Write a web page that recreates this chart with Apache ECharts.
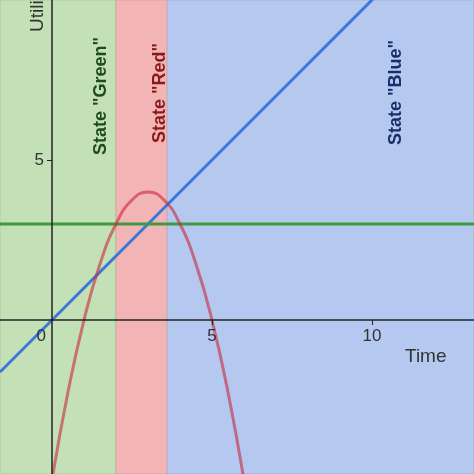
<!DOCTYPE html><html><head><meta charset="utf-8"><script src="https://cdn.jsdelivr.net/npm/echarts@6/dist/echarts.min.js"></script></head><body style="margin:0"><div id="c" style="width:474px;height:474px"></div><script>
const regions=[["Green",-1.625,2],["Red",2,3.6],["Blue",3.6,13.19]];
const regionColors=["rgb(196,224,182)","rgb(242,180,180)","rgb(180,200,240)"];
const lineX=[-1.625,13.19];const lineY=[-1.625,13.19];
const flatY=[3,3];
const curveX=[0,0.5,1,1.5,2,2.5,3,3.5,4,4.5,5,5.5,6];
const curveY=[-5,-2.25,0,1.75,3,3.75,4,3.75,3,1.75,0,-2.25,-5];
const xTicks=[5,10];const yTicks=[5];
const ch=echarts.init(document.getElementById('c'));
const f='Liberation Sans, Arial, sans-serif';
ch.setOption({animation:false,
grid:{left:0,right:0,top:0,bottom:0,containLabel:false,outerBoundsMode:'none'},
xAxis:{type:'value',min:-1.625,max:13.19,z:10,splitLine:{show:false},axisLine:{onZero:true,lineStyle:{color:'#222',width:1.5}},
 axisTick:{customValues:xTicks,length:5,lineStyle:{color:'#222'}},axisLabel:{show:false}},
yAxis:{type:'value',min:-4.81,max:10,z:10,splitLine:{show:false},axisLine:{onZero:true,lineStyle:{color:'#222',width:1.5}},
 axisTick:{customValues:yTicks,length:5,lineStyle:{color:'#222'}},axisLabel:{show:false}},
series:[
{type:'line',data:[],z:0,markArea:{silent:true,z:0,data:regions.map((r,i)=>[{xAxis:r[1],itemStyle:{color:regionColors[i],borderColor:'rgba(0,0,0,0.1)',borderWidth:1}},{xAxis:r[2]}])}},
{type:'line',z:5,data:lineX.map((x,i)=>[x,lineY[i]]),symbol:'none',lineStyle:{color:'#3c78d8',width:3}},
{type:'line',z:5,data:lineX.map((x,i)=>[x,flatY[i]]),symbol:'none',lineStyle:{color:'#3d9a3d',width:3}},
{type:'line',z:5,data:curveX.map((x,i)=>[x,curveY[i]]),smooth:true,symbol:'none',lineStyle:{color:'rgba(200,40,60,0.6)',width:3}}
]});
const P=(x,y)=>ch.convertToPixel({gridIndex:0},[x,y]);
const tl=[];
xTicks.forEach(v=>{const p=P(v,0);tl.push({type:'text',z:100,x:p[0],y:p[1]+8,style:{text:String(v),fontSize:17,fontFamily:f,fill:'#333',align:'center'}});});
yTicks.forEach(v=>{const p=P(0,v);tl.push({type:'text',z:100,x:p[0]-8,y:p[1],style:{text:String(v),fontSize:17,fontFamily:f,fill:'#333',align:'right',verticalAlign:'middle'}});});
const o=P(0,0);
tl.push({type:'text',z:100,x:o[0]-6,y:o[1]+8,style:{text:'0',fontSize:17,fontFamily:f,fill:'#333',align:'right'}});
tl.push({type:'text',z:100,x:405,y:347,style:{text:'Time',fontSize:19,fontFamily:f,fill:'#333'}});
tl.push({type:'text',z:100,x:28,y:32,rotation:Math.PI/2,style:{text:'Utility',fontSize:19,fontFamily:f,fill:'#333'}});
tl.push({type:'text',z:100,x:92,y:155,rotation:Math.PI/2,style:{text:'State "Green"',fontSize:18,fontWeight:'bold',fontFamily:f,fill:'#1f4a1f'}});
tl.push({type:'text',z:100,x:151,y:143,rotation:Math.PI/2,style:{text:'State "Red"',fontSize:18,fontWeight:'bold',fontFamily:f,fill:'#8a1a1a'}});
tl.push({type:'text',z:100,x:387,y:145,rotation:Math.PI/2,style:{text:'State "Blue"',fontSize:18,fontWeight:'bold',fontFamily:f,fill:'#1a2f6a'}});
ch.setOption({graphic:tl});
</script></body></html>
